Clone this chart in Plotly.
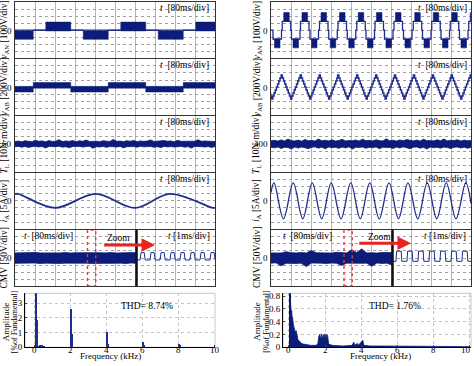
import numpy as np
import plotly.graph_objects as go

W, H = 474, 366
LINE = '#1f2d8f'
BAND = '#0c1c78'
SERIF = 'Liberation Serif'

# ================= DATA =================
T_RANGE = [0, 800]          # ms, 10 div x 80 ms

# ---- left column ----
van_l_edges = [0, 73, 123, 223, 273, 373, 423, 523, 573, 673, 723, 800]
van_l_hi    = [-10, 0, 115, 0, -10, 0, 115, 0, -10, 0, 115]
van_l_lo    = [-130, 0, -10, 0, -130, 0, -10, 0, -130, 0, -10]

vab_l_edges = [0, 73, 223, 373, 523, 673, 800]
vab_l_hi    = [20, 130, 20, 130, 20, 130]
vab_l_lo    = [-140, -30, -140, -30, -140, -30]

tl_l_center = 60
tl_l_up = [3.5, 4.1, 3.2, 4.6, 3.8, 3.3, 5.2, 3.9, 4.4, 3.1, 4.8, 3.6, 4.0, 6.1, 3.4, 4.3, 3.7, 4.9, 3.2, 4.5,
           3.8, 5.6, 3.5, 4.2, 3.9, 3.3, 4.7, 4.0, 3.6, 6.4, 3.8, 4.1, 3.4, 4.6, 3.9, 5.0, 3.3, 4.4, 3.7, 4.2,
           5.8, 3.6, 4.0, 3.5, 4.8, 3.9, 4.3, 3.2, 5.3, 3.8, 4.1, 3.6, 4.5, 4.0, 6.0, 3.7, 4.2, 3.9, 4.6, 3.5]
tl_l_dn = [-3.9, -3.4, -4.5, -3.6, -5.0, -3.8, -3.3, -4.2, -3.7, -5.6, -3.5, -4.1, -3.9, -3.2, -4.6, -3.8, -5.3, -3.6, -4.0, -3.4,
           -4.4, -3.7, -3.3, -6.0, -3.9, -4.2, -3.5, -4.8, -3.6, -3.9, -4.3, -3.4, -5.5, -3.8, -4.0, -3.6, -4.5, -3.3, -4.1, -3.9,
           -3.5, -4.7, -3.8, -5.1, -3.4, -4.2, -3.6, -4.4, -3.9, -3.3, -4.6, -3.7, -5.8, -3.5, -4.0, -3.8, -4.3, -3.6, -4.9, -3.7]

ia_l_t = [0, 12, 160, 323, 480, 620, 792, 800]
ia_l_v = [4.8, 5.0, -5.0, 5.0, -5.0, 5.0, -5.0, -4.9]

cmv_l_up = [36, 38, 35, 37, 39, 36, 35, 38, 37, 36, 39, 35, 37, 38, 36, 35, 38, 37, 36, 39, 35, 37, 36, 38, 37]
cmv_l_dn = [-37, -35, -38, -36, -35, -39, -36, -37, -35, -38, -36, -37, -39, -35, -36, -38, -37, -35, -36, -38, -37, -36, -39, -35, -37]
cmv_l_zoom_rise = [0.2, 0.7, 1.2, 1.7, 2.2, 2.7, 3.2, 3.7]   # ms (1 ms/div)
cmv_l_zoom_hi, cmv_l_zoom_lo = 38, -14

spec_l_f = [0.05, 0.1, 0.2, 0.3, 0.35, 0.4, 0.5, 2.0, 2.05, 4.0, 4.05, 6.0, 6.05, 8.0, 8.05, 10.0]
spec_l_a = [100, 1.8, 0.06, 0.12, 0.15, 0.1, 0.05, 2.55, 0.85, 1.02, 0.2, 0.32, 0.12, 0.2, 0.08, 0.1]

# ---- right column ----
van_r_top_centers = [62, 135, 211, 285, 360, 433, 509, 586, 660, 734, 808]
van_r_bot_centers = [25, 99, 173, 248, 322, 397, 471, 547, 623, 697, 771]
van_r_levels = [0, 125, 250]

vab_r_peaks = [43, 119, 195, 269, 345, 421, 496, 572, 648, 723, 799]
vab_r_levels = [340, 255, 170, 85, 0, -85, -170, -255, -340]

tl_r_center = 399
tl_r_up = [4.6, 5.2, 4.1, 5.8, 4.4, 6.9, 4.8, 4.3, 5.5, 4.0, 6.2, 4.7, 5.1, 4.2, 7.1, 4.6, 5.3, 4.4, 5.9, 4.1,
           4.9, 6.6, 4.3, 5.0, 4.5, 5.7, 4.2, 6.8, 4.7, 5.2, 4.4, 6.0, 4.8, 4.3, 7.3, 4.6, 5.4, 4.1, 5.8, 4.5,
           6.3, 4.9, 4.4, 5.6, 4.2, 6.7, 4.7, 5.1, 4.3, 5.9, 4.6, 7.0, 4.4, 5.3, 4.8, 6.1, 4.2, 5.5, 4.7, 5.0]
tl_r_dn = [-4.8, -5.5, -4.3, -6.4, -4.6, -5.1, -7.0, -4.4, -5.8, -4.2, -5.3, -6.6, -4.7, -4.1, -5.9, -4.5, -6.9, -4.3, -5.2, -4.8,
           -6.2, -4.4, -5.6, -4.0, -7.2, -4.6, -5.0, -4.3, -6.1, -4.7, -5.4, -4.2, -6.8, -4.5, -5.1, -4.9, -6.3, -4.4, -5.7, -4.1,
           -5.2, -6.7, -4.6, -4.3, -5.9, -4.8, -7.1, -4.2, -5.5, -4.6, -6.0, -4.4, -5.1, -6.5, -4.7, -4.3, -5.8, -4.5, -6.2, -4.8]

ia_r_t = [0, 12, 50, 89, 127, 165, 203, 241, 280, 319, 357, 395, 433, 472, 510, 548, 587, 625, 663, 701, 740, 779, 800]
ia_r_v = [6, 12.7, -12.7, 12.7, -12.7, 12.7, -12.7, 12.7, -12.7, 12.7, -12.7, 12.7, -12.7, 12.7, -12.7, 12.7,
          -12.7, 12.7, -12.7, 12.7, -12.7, 12.7, -1.8]

cmv_r_up = [36, 38, 35, 44, 37, 36, 39, 35, 52, 37, 36, 38, 35, 40, 37, 36, 58, 38, 64, 36, 37, 35, 39, 36, 38]
cmv_r_dn = [-36, -34, -55, -37, -35, -38, -36, -60, -35, -37, -36, -39, -35, -37, -52, -36, -38, -35, -37, -36, -58, -35, -38, -36, -50]
cmv_r_zoom_rise = [0.2, 0.75, 1.3, 1.85, 2.4, 2.95, 3.5]
cmv_r_zoom_hi, cmv_r_zoom_lo = 48, -23

spec_r_f = [0.05, 0.06, 0.08, 0.1, 0.12, 0.15, 0.18, 0.2, 0.25, 0.3, 0.35, 0.4, 0.45, 0.5, 0.6, 0.7, 0.8, 1.0, 1.2, 1.5,
            1.6, 1.65, 1.7, 1.75, 1.8, 1.85, 1.9, 1.95, 2.0, 2.05, 2.1, 2.15, 2.2, 2.4, 3.0, 3.5, 3.6, 3.65, 3.8, 3.85,
            4.0, 4.1, 4.15, 4.5, 5.0, 6.0, 7.0, 8.0, 9.0, 10.0]
spec_r_a = [0.84, 0.84, 0.75, 0.62, 0.55, 0.58, 0.45, 0.47, 0.35, 0.3, 0.24, 0.26, 0.15, 0.12, 0.09, 0.06, 0.05, 0.04, 0.03, 0.03,
            0.05, 0.16, 0.2, 0.13, 0.21, 0.12, 0.2, 0.15, 0.21, 0.13, 0.2, 0.18, 0.05, 0.03, 0.02, 0.03, 0.08, 0.03, 0.06, 0.03,
            0.08, 0.11, 0.03, 0.02, 0.02, 0.02, 0.015, 0.02, 0.015, 0.01]
spec_r_fund = 100

spec_xticks = [0, 2, 4, 6, 8, 10]
THD_L, THD_R = '8.74%', '1.76%'

# ================= LAYOUT HELPERS =================
def fx(x):
    return x / W

def fy(y):
    return 1 - y / H

COLS = {'L': (15, 215), 'R': (271, 471)}
ROWS = [(0, 57.5), (58, 115.5), (116, 173.5), (174, 231.5), (232, 290)]
YRANGES_L = [[-400, 400], [-800, 800], [tl_l_center - 40, tl_l_center + 40], [-20, 20], [-200, 200]]
YRANGES_R = [[-400, 400], [-800, 800], [tl_r_center - 40, tl_r_center + 40], [-20, 20], [-200, 200]]

layout = dict(width=W, height=H, margin=dict(l=0, r=0, t=0, b=0), showlegend=False,
              paper_bgcolor='white', plot_bgcolor='white', shapes=[], annotations=[],
              font=dict(family=SERIF, size=9, color='black'))

def wave_axes(idx, col, row, yr):
    x0, x1 = COLS[col]
    ytop, ybot = ROWS[row]
    layout['xaxis%d' % idx] = dict(domain=[fx(x0), fx(x1)], range=T_RANGE, dtick=80, tick0=0,
                                   showgrid=True, gridcolor='#b4b4b4', gridwidth=1, showticklabels=False,
                                   zeroline=False, showline=True, mirror=True, linecolor='#333', linewidth=1,
                                   ticks='', anchor='y%d' % idx, fixedrange=True)
    layout['yaxis%d' % idx] = dict(domain=[fy(ybot), fy(ytop)], range=yr, dtick=(yr[1] - yr[0]) / 8,
                                   tick0=yr[0], showgrid=True, gridcolor='#a0a0a0', griddash='dot',
                                   gridwidth=1, showticklabels=False, zeroline=False, showline=True,
                                   mirror=True, linecolor='#333', linewidth=1, ticks='',
                                   anchor='x%d' % idx, fixedrange=True)

fig = go.Figure()

def ax(idx):
    return dict(xaxis='x%d' % idx, yaxis='y%d' % idx)

def band_steps(idx, edges, hi, lo, color=BAND):
    fig.add_trace(go.Scatter(x=edges, y=list(lo) + [lo[-1]], mode='lines', line=dict(width=0.5, color=color,
                             shape='hv'), hoverinfo='skip', **ax(idx)))
    fig.add_trace(go.Scatter(x=edges, y=list(hi) + [hi[-1]], mode='lines', line=dict(width=0.5, color=color,
                             shape='hv'), fill='tonexty', fillcolor=color, hoverinfo='skip', **ax(idx)))

def noise_band(idx, t0, t1, center, up, dn, color=BAND):
    tu = np.linspace(t0, t1, len(up))
    td = np.linspace(t0, t1, len(dn))
    xs = list(tu) + list(td[::-1])
    ys = [center + u for u in up] + [center + d for d in dn[::-1]]
    fig.add_trace(go.Scatter(x=xs, y=ys, mode='lines', fill='toself', fillcolor=color,
                             line=dict(width=0.8, color=color), hoverinfo='skip', **ax(idx)))

def line(idx, x, y, width=1.3, shape='linear', color=LINE, smoothing=None):
    ln = dict(width=width, color=color, shape=shape)
    if smoothing is not None:
        ln['smoothing'] = smoothing
    fig.add_trace(go.Scatter(x=x, y=y, mode='lines', line=ln, hoverinfo='skip', **ax(idx)))

# ---------------- axes ----------------
for r in range(5):
    wave_axes(r + 1, 'L', r, YRANGES_L[r])
    wave_axes(r + 6, 'R', r, YRANGES_R[r])

# ---------------- LEFT COLUMN ----------------
line(1, T_RANGE, [0, 0], width=1.2)
band_steps(1, van_l_edges, van_l_hi, van_l_lo)
line(2, T_RANGE, [0, 0], width=1.0)
band_steps(2, vab_l_edges, vab_l_hi, vab_l_lo)
noise_band(3, 0, 800, tl_l_center, tl_l_up, tl_l_dn)
line(4, ia_l_t, ia_l_v, width=1.8, shape='spline', smoothing=1.0)
ZOOM0 = 484
noise_band(5, 0, ZOOM0, 0, cmv_l_up, cmv_l_dn)

def zoom_wave(idx, rises, hi, lo, top_w, edge_w):
    xs, ys = [ZOOM0], [lo]
    for r0 in rises:
        xs += [ZOOM0 + 80 * r0, ZOOM0 + 80 * (r0 + edge_w), ZOOM0 + 80 * (r0 + edge_w + top_w),
               ZOOM0 + 80 * (r0 + 2 * edge_w + top_w)]
        ys += [lo, hi, hi, lo]
    xs.append(800)
    ys.append(lo)
    line(idx, xs, ys, width=1.0)

zoom_wave(5, cmv_l_zoom_rise, cmv_l_zoom_hi, cmv_l_zoom_lo, 0.16, 0.05)

# ---------------- RIGHT COLUMN ----------------
L0, L1, L2 = van_r_levels
ev = []
for c in van_r_top_centers:
    ev.append((c - 17, L1))
    ev.append((c + 17, L0))
for b in van_r_bot_centers:
    ev.append((b - 17, -L1))
    ev.append((b + 17, L0))
ev.sort()
sx = [0] + [e[0] for e in ev] + [800]
sy = [L0] + [e[1] for e in ev] + [ev[-1][1]]
line(6, sx, sy, width=1.3, shape='hv')
bx, by = [], []
for c in van_r_top_centers:
    bx += [c - 11, c - 11, c + 11, c + 11, None]
    by += [L1, L2, L2, L1, None]
for b in van_r_bot_centers:
    bx += [b - 11, b - 11, b + 11, b + 11, None]
    by += [-L1, -L2, -L2, -L1, None]
fig.add_trace(go.Scatter(x=bx, y=by, mode='lines', fill='toself', fillcolor=BAND,
                         line=dict(width=0.6, color=BAND), hoverinfo='skip', **ax(6)))

period = (vab_r_peaks[-1] - vab_r_peaks[0]) / (len(vab_r_peaks) - 1)
h = period / 16
ext = [vab_r_peaks[0] - period] + vab_r_peaks
tx, ty = [], []
for p in ext:
    down = vab_r_levels
    up = vab_r_levels[::-1]
    for k, lv in enumerate(down):
        tx.append(p - h / 2 + k * h)
        ty.append(lv)
    for k, lv in enumerate(up[1:-1]):
        tx.append(p + period / 2 + h / 2 + k * h)
        ty.append(lv)
line(7, tx, ty, width=1.5, shape='hv')

noise_band(8, 0, 800, tl_r_center, tl_r_up, tl_r_dn)
line(9, ia_r_t, ia_r_v, width=1.3, shape='spline', smoothing=1.0)
noise_band(10, 0, ZOOM0, 0, cmv_r_up, cmv_r_dn)
zoom_wave(10, cmv_r_zoom_rise, cmv_r_zoom_hi, cmv_r_zoom_lo, 0.23, 0.03)

# ---------------- SPECTRA ----------------
def spec_axes(idx, x0, x1, xr, yr, yticks):
    layout['xaxis%d' % idx] = dict(domain=[fx(x0), fx(x1)], range=xr, tickvals=spec_xticks,
                                   showgrid=True, gridcolor='#c4c4c4', griddash='dot', zeroline=False,
                                   showline=True, linecolor='black', linewidth=1, ticks='inside', ticklen=2,
                                   showticklabels=False, anchor='y%d' % idx, fixedrange=True)
    layout['yaxis%d' % idx] = dict(domain=[fy(352), fy(297)], range=yr, tickvals=yticks,
                                   showgrid=True, gridcolor='#c4c4c4', griddash='dot', zeroline=False,
                                   showline=True, linecolor='black', linewidth=1, ticks='inside', ticklen=2,
                                   tickfont=dict(size=9, family=SERIF), anchor='x%d' % idx, fixedrange=True)
    layout['shapes'].append(dict(type='rect', xref='paper', yref='paper', x0=fx(x0), x1=fx(x1),
                                 y0=fy(352), y1=fy(297), line=dict(color='#c8c8c8', width=1), layer='below'))

spec_axes(11, 25, 215, [-0.55, 10.02], [0, 3.67], [0, 1, 2, 3])
spec_axes(12, 283, 471, [-0.33, 10.1], [0, 0.845], [0, 0.2, 0.4, 0.6, 0.8])

fig.add_trace(go.Bar(x=spec_l_f, y=spec_l_a, width=0.06, marker=dict(color=LINE, line=dict(width=0)),
                     hoverinfo='skip', **ax(11)))
fig.add_trace(go.Scatter(x=spec_r_f, y=spec_r_a, mode='lines', fill='tozeroy', fillcolor=BAND,
                         line=dict(width=0.8, color=BAND), hoverinfo='skip', **ax(12)))
fig.add_trace(go.Bar(x=[0.05], y=[spec_r_fund], width=0.07, marker=dict(color=BAND, line=dict(width=0)),
                     hoverinfo='skip', **ax(12)))
layout['bargap'] = 0

# ---------------- TEXT / DECORATIONS ----------------
A = layout['annotations']
S = layout['shapes']

def txt(x, y, s, size=9.5, xanchor='center', angle=0, color='black', xref='paper'):
    A.append(dict(x=fx(x) if xref == 'paper' else x, y=fy(y), xref=xref, yref='paper', text=s,
                  showarrow=False, xanchor=xanchor, yanchor='middle', textangle=angle,
                  font=dict(size=size, family=SERIF, color=color)))

titles = ['<i>v</i><sub>AN</sub> [100V/div]', '<i>v</i><sub>AB</sub> [200V/div]',
          '<i>T</i><sub>L</sub> [10N·m/div]', '<i>i</i><sub>A</sub> [5A/div]', 'CMV [50V/div]']
zeros_l = ['0', '0', str(tl_l_center), '0', '0']
zeros_r = ['0', '0', str(tl_r_center + 1), '0', '0']
for r in range(5):
    yc = (ROWS[r][0] + ROWS[r][1]) / 2
    txt(4.5, yc, titles[r], size=9.5, angle=-90)
    txt(257, yc, titles[r], size=9.5, angle=-90)
    txt(14, yc + 0.5, zeros_l[r], size=9, xanchor='right')
    txt(270, yc + 0.5, zeros_r[r], size=9, xanchor='right')
    if r < 4:
        txt(211, ROWS[r][0] + 6.5, '<i>t</i>  [80ms/div]', size=9.5, xanchor='right')
        txt(469, ROWS[r][0] + 6.5, '<i>t</i>  [80ms/div]', size=9.5, xanchor='right')

txt(48, 238.5, '<i>t</i>  [80ms/div]', size=9.5)
txt(307, 238.5, '<i>t</i>  [80ms/div]', size=9.5)
txt(212, 238.5, '<i>t</i> [1ms/div]', size=9.5, xanchor='right')
txt(468, 238.5, '<i>t</i> [1ms/div]', size=9.5, xanchor='right')
txt(118, 240.5, 'Zoom', size=9.5)
txt(379, 239.5, 'Zoom', size=9.5)

for idx in (5, 10):
    S.append(dict(type='line', xref='x%d' % idx, yref='y%d' % idx, x0=ZOOM0 + 2, x1=ZOOM0 + 2,
                  y0=-200, y1=200, line=dict(color='#111', width=2.5)))
S.append(dict(type='rect', xref='x5', yref='y5', x0=290, x1=323, y0=-196, y1=196,
              line=dict(color='#e53935', width=1.4, dash='dot')))
S.append(dict(type='rect', xref='x10', yref='y10', x0=292, x1=325, y0=-196, y1=196,
              line=dict(color='#e53935', width=1.4, dash='dot')))
for (xt, xh, yy) in [(101.7, 155, 247.7), (356.7, 411, 246)]:
    A.append(dict(x=fx(xh), y=fy(yy), xref='paper', yref='paper', ax=-(xh - xt), ay=0, text=' ',
                  showarrow=True, arrowhead=2, arrowsize=0.9, arrowwidth=3, arrowcolor='#e8231c'))

# spectrum x tick labels (placed just under the axis line)
for xa in (11, 12):
    for v in spec_xticks:
        if xa == 12 and v == spec_xticks[-1]:
            A.append(dict(x=fx(472.5), y=fy(355), xref='paper', yref='paper', text=str(v), showarrow=False,
                          xanchor='right', yanchor='middle', font=dict(size=9, family=SERIF, color='black')))
        else:
            txt(v, 355, str(v), size=9, xref='x%d' % xa)

txt(147, 310, 'THD= ' + THD_L, size=9.5)
txt(395, 310, 'THD= ' + THD_R, size=9.5)
txt(110, 360.5, 'Frequency (kHz)', size=9)
txt(380, 360.5, 'Frequency (kHz)', size=9)
txt(5.5, 326, 'Amplitude', size=9, angle=-90)
txt(14.5, 326, '[%of Fundamental]', size=8, angle=-90)
txt(257, 326, 'Amplitude', size=9, angle=-90)
txt(267, 326, '[%of Fundamental]', size=8, angle=-90)

fig.update_layout(**layout)
fig.write_html('out.html', config={'displayModeBar': False},
               post_script="document.body.style.margin='0';document.body.style.overflow='hidden';")
